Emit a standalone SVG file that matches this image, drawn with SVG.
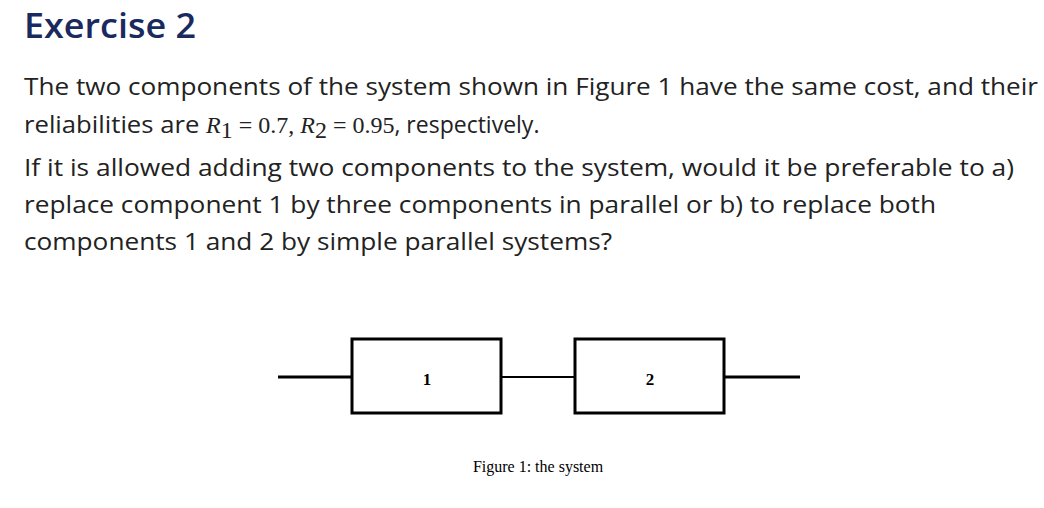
<svg xmlns="http://www.w3.org/2000/svg" width="1044" height="508" viewBox="0 0 1044 508">
<style>
.t{font-family:"Open Sans","Liberation Sans",sans-serif;font-size:23px;fill:#222}
.m{font-family:"Liberation Serif",serif;font-size:24px;fill:#222}
.box{fill:#fff;stroke:#000;stroke-width:3}
.w{stroke:#000;stroke-width:3}
.lab{font-family:"Liberation Serif",serif;font-size:17px;font-weight:bold;text-anchor:middle}
</style>
<rect width="1044" height="508" fill="#fff"/>
<text x="24" y="38" font-family="Open Sans,Liberation Sans,sans-serif" font-size="34" font-weight="600" fill="#1a2a5e" textLength="172" lengthAdjust="spacingAndGlyphs">Exercise 2</text>
<text class="t" x="24" y="95" textLength="1014" lengthAdjust="spacingAndGlyphs">The two components of the system shown in Figure 1 have the same cost, and their</text>
<text x="24" y="133"><tspan class="t" textLength="182" lengthAdjust="spacingAndGlyphs">reliabilities are </tspan><tspan class="m" font-style="italic">R</tspan><tspan class="m" font-size="15" dy="5">1</tspan><tspan class="m" dy="-5"> = 0.7, </tspan><tspan class="m" font-style="italic">R</tspan><tspan class="m" font-size="15" dy="5">2</tspan><tspan class="m" dy="-5"> = 0.95</tspan><tspan class="t">, respectively.</tspan></text>
<text class="t" x="24" y="176" textLength="990" lengthAdjust="spacingAndGlyphs">If it is allowed adding two components to the system, would it be preferable to a)</text>
<text class="t" x="24" y="213" textLength="912" lengthAdjust="spacingAndGlyphs">replace component 1 by three components in parallel or b) to replace both</text>
<text class="t" x="24" y="250" textLength="588" lengthAdjust="spacingAndGlyphs">components 1 and 2 by simple parallel systems?</text>
<g id="connectors">
<line class="w" x1="278" y1="377" x2="352" y2="377"/>
<line x1="501" y1="377" x2="575" y2="377" stroke="#000" stroke-width="2"/>
<line class="w" x1="724" y1="377" x2="800" y2="377"/>
</g>
<g id="node1"><rect class="box" x="352" y="339" width="149" height="74"/><text class="lab" x="427" y="385">1</text></g>
<g id="node2"><rect class="box" x="575" y="339" width="149" height="74"/><text class="lab" x="650" y="385">2</text></g>
<text x="538" y="472" text-anchor="middle" font-family="Liberation Serif,serif" font-size="16" fill="#000">Figure 1: the system</text>
</svg>
